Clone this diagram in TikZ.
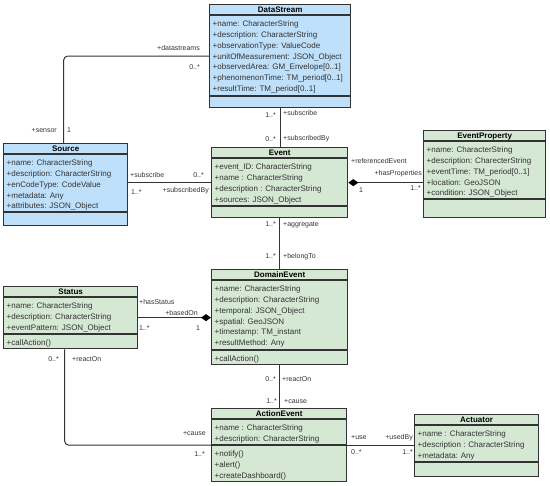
\documentclass[tikz,border=0pt]{standalone}
\usepackage{fontspec}
\setmainfont{Liberation Sans}
\usetikzlibrary{arrows.meta}

\definecolor{dsblue}{RGB}{191,224,250}
\definecolor{evgreen}{RGB}{213,232,212}
\definecolor{umlgray}{RGB}{51,51,51}

\tikzset{
  classbox/.style={draw=umlgray, line width=1.3pt, inner sep=0pt},
  classline/.style={draw=umlgray, line width=1.1pt},
  classtitle/.style={inner sep=0pt, font=\fontsize{8}{10}\selectfont\bfseries, text=black},
  members/.style={inner sep=0pt, align=left, font=\fontsize{8}{10.85}\selectfont, text=umlgray},
  assoc/.style={draw=umlgray, line width=1pt},
  composition/.style={assoc, {Diamond[length=10pt,width=7pt,color=black]}-},
  role/.style={inner sep=0pt, font=\fontsize{7}{8}\selectfont, text=umlgray},
}

% name, fill, corner, width, attribute height, operation height, title, attributes, operations
\newcommand{\umlclass}[9]{%
  \node[classbox, fill=#2, minimum width=#4, minimum height={11+#5+#6}, anchor=north west] (#1) at (#3) {};
  \node[classtitle, anchor=base] (#1-name) at ([yshift=-8.4pt]#1.north) {#7};
  \draw[classline] ([yshift=-11pt]#1.north west) -- ([yshift=-11pt]#1.north east);
  \draw[classline] ([yshift={-(11+#5)*1pt}]#1.north west) -- ([yshift={-(11+#5)*1pt}]#1.north east);
  \node[members, anchor=north west] (#1-attr) at ([xshift=3.5pt,yshift=-16.5pt]#1.north west) {#8};
  \node[members, anchor=north west] (#1-ops) at ([xshift=3.5pt,yshift={-(16.5+#5)*1pt}]#1.north west) {#9};
}

\begin{document}
\begin{tikzpicture}[x=1pt, y=-1pt]
\useasboundingbox (0,0) rectangle (550,486);

\umlclass{ds}{dsblue}{209,4}{141}{81}{11}{DataStream}{+name: CharacterString\\+description: CharacterString\\+observationType: ValueCode\\+unitOfMeasurement: JSON\_Object\\+observedArea: GM\_Envelope[0..1]\\+phenomenonTime: TM\_period[0..1]\\+resultTime: TM\_period[0..1]}{}
\umlclass{src}{dsblue}{3,143}{124}{58}{13}{Source}{+name: CharacterString\\+description: CharacterString\\+enCodeType: CodeValue\\+metadata: Any\\+attributes: JSON\_Object}{}
\umlclass{evt}{evgreen}{211,147}{136}{48}{11}{Event}{+event\_ID: CharacterString\\+name : CharacterString\\+description : CharacterString\\+sources: JSON\_Object}{}
\umlclass{ep}{evgreen}{423,130}{122}{58}{18}{EventProperty}{+name: CharacterString\\+description: CharecterString\\+eventTime: TM\_period[0..1]\\+location: GeoJSON\\+condition: JSON\_Object}{}
\umlclass{st}{evgreen}{3,286}{134}{37}{14}{Status}{+name: CharacterString\\+description: CharacterString\\+eventPattern: JSON\_Object}{+callAction()}
\umlclass{de}{evgreen}{211,269}{136}{70}{14}{DomainEvent}{+name: CharacterString\\+description: CharacterString\\+temporal: JSON\_Object\\+spatial: GeoJSON\\+timestamp: TM\_instant\\+resultMethod: Any}{+callAction()}
\umlclass{ae}{evgreen}{211,408}{135}{26}{36}{ActionEvent}{+name : CharacterString\\+description: CharacterString}{+notify()\\+alert()\\+createDashboard()}
\umlclass{act}{evgreen}{414,414}{124}{37}{14}{Actuator}{+name : CharacterString\\+description : CharacterString\\+metadata: Any}{}

% associations
\draw[assoc, rounded corners=4pt] (ds.west) -| ([xshift=-2pt]src.north);
\draw[assoc] (ds.south) -- (ds.south |- evt.north);
\draw[assoc] (src.east |- evt.west) -- (evt.west);
\draw[composition] (evt.east) -- (evt.east -| ep.west);
\draw[assoc] (evt.south) -- (evt.south |- de.north);
\draw[composition] (st.east -| de.west) -- (st.east);
\draw[assoc, rounded corners=4pt] ([xshift=-6pt]st.south) |- (ae.west);
\draw[assoc] (de.south) -- (de.south |- ae.north);
\draw[assoc] (ae.east) -- (ae.east -| act.west);

% roles and multiplicities
\node[role, anchor=base east] (ds-role) at (200,50.3) {+datastreams};
\node[role, anchor=base east] (ds-mult) at (200,69.5) {0..*};
\node[role, anchor=base east] (src-role) at (57,132.3) {+sensor};
\node[role, anchor=base west] (src-mult) at (67,132.5) {1};
\node[role, anchor=base east] (dsub-mult) at (276,117.5) {1..*};
\node[role, anchor=base west] (dsub-role) at (283,115.3) {+subscribe};
\node[role, anchor=base east] (esub-mult) at (276,141.5) {0..*};
\node[role, anchor=base west] (esub-role) at (283,141) {+subscribedBy};
\node[role, anchor=base west] (ssub-role) at (130,177.3) {+subscribe};
\node[role, anchor=base east] (ssub-mult) at (204,177.5) {0..*};
\node[role, anchor=base west] (sby-mult) at (131,194.5) {1..*};
\node[role, anchor=base east] (sby-role) at (209,192.3) {+subscribedBy};
\node[role, anchor=base east] (agg-mult) at (276,226.5) {1..*};
\node[role, anchor=base west] (agg-role) at (283,226.3) {+aggregate};
\node[role, anchor=base east] (bel-mult) at (276,258.5) {1..*};
\node[role, anchor=base west] (bel-role) at (283,258.3) {+belongTo};
\node[role, anchor=base west] (ref-role) at (351,163.3) {+referencedEvent};
\node[role, anchor=base east] (prop-role) at (422,175.3) {+hasProperties};
\node[role, anchor=base west] (ref-mult) at (359,192.5) {1};
\node[role, anchor=base east] (prop-mult) at (421,190.5) {1..*};
\node[role, anchor=base west] (hst-role) at (139,304.3) {+hasStatus};
\node[role, anchor=base east] (bas-role) at (198,315.3) {+basedOn};
\node[role, anchor=base west] (hst-mult) at (139,330.5) {1..*};
\node[role, anchor=base west] (bas-mult) at (196,330.5) {1};
\node[role, anchor=base east] (str-mult) at (59,361.5) {0..*};
\node[role, anchor=base west] (str-role) at (72,361.3) {+reactOn};
\node[role, anchor=base east] (der-mult) at (276,381.5) {0..*};
\node[role, anchor=base west] (der-role) at (282,381.3) {+reactOn};
\node[role, anchor=base east] (aec-mult) at (277,403.2) {1..*};
\node[role, anchor=base west] (aec-role) at (284,403.3) {+cause};
\node[role, anchor=base east] (stc-role) at (206,435.3) {+cause};
\node[role, anchor=base east] (stc-mult) at (205,456.5) {1..*};
\node[role, anchor=base west] (use-role) at (351,439.3) {+use};
\node[role, anchor=base east] (uby-role) at (413,439.3) {+usedBy};
\node[role, anchor=base west] (use-mult) at (351,454.5) {0..*};
\node[role, anchor=base east] (uby-mult) at (413,454.5) {1..*};
\end{tikzpicture}
\end{document}
